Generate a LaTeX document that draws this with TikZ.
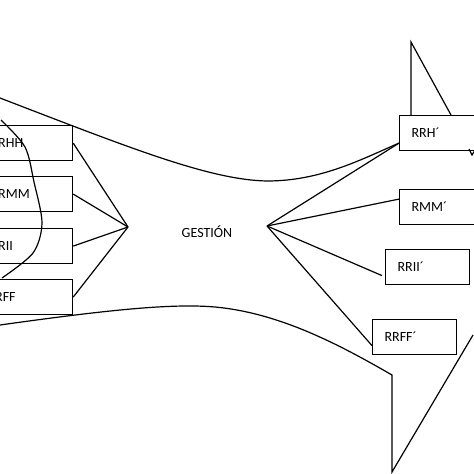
\documentclass[tikz,border=0pt]{standalone}
\usepackage{fontspec}
\setmainfont{Carlito}
\begin{document}
\begin{tikzpicture}[x=1pt,y=-1pt,line width=1.2pt,
  box/.style={draw,rectangle,anchor=north west,align=left,inner xsep=12pt,inner ysep=0pt,minimum height=35pt,font=\fontsize{14}{16}\selectfont},
  lbl/.style={font=\fontsize{14}{16}\selectfont,inner sep=0pt},
  conn/.style={draw,line width=1.2pt}]
\useasboundingbox (0,0) rectangle (474,474);
\fill[white] (0,0) rectangle (474,474);
\clip (0,0) rectangle (474,474);
% left boxes
\node[box,text width=70pt] (lrh) at (-22,125) {RRHH};
\node[box,text width=70pt] (lrm) at (-22,176) {RRMM};
\node[box,text width=70pt] (lri) at (-22,228) {RRII};
\node[box,text width=70pt] (lrf) at (-22,279) {\hspace*{-3pt}RRFF};
% right boxes
\node[box,text width=67pt] (rrh) at (399,115) {RRH´};
\node[box,text width=67pt] (rrm) at (399,189) {RMM´};
\node[box,text width=60pt] (rri) at (385,249) {RRII´};
\node[box,text width=60pt] (rrf) at (372,319) {RRFF´};
% centre
\node[lbl] (g) at (207,232) {GESTIÓN};
\coordinate (hl) at (128,227);
\coordinate (hr) at (267,226);
% hub connectors
\path[conn] (hl) -- (lrh.east);
\path[conn] (hl) -- (lrm.east);
\path[conn] (hl) -- (lri.east);
\path[conn] (hl) -- (lrf.east);
\path[conn] (hr) -- ([yshift=-10pt]rrh.west);
\path[conn] (hr) -- ([yshift=8pt]rrm.west);
\path[conn] (hr) -- ([yshift=-8.5pt,xshift=-3pt]rri.west);
\path[conn] (hr) -- ([yshift=-8.5pt]rrf.west);
% outline of the fish shape
\coordinate (tl) at (0,98);
\coordinate (bl) at (0,325);
\coordinate (tail) at (392,375);
\coordinate (tailb) at (392,472);
\coordinate (tailr) at (473,335);
\path[conn] (tl) .. controls (130,148) and (210,180) .. (267,181)
  .. controls (320,181) and (360,160) .. ([yshift=-10pt]rrh.west);
\path[conn] (bl) .. controls (100,311) and (170,303) .. (215,307)
  .. controls (280,313) and (340,345) .. (tail) -- (tailb) -- (tailr);
% top fin
\coordinate (fa) at (411,42);
\path[conn] (rrh.north west) ++(12,0) -- (fa) -- (451,115);
% small tick
\path[conn] (469,149) -- (472,155) -- (475,150);
% wavy line on the left
\draw[line width=1.2pt] plot[smooth] coordinates {(1,120) (25,147) (34,182) (42,223) (33,253) (2,278)};
\end{tikzpicture}
\end{document}
